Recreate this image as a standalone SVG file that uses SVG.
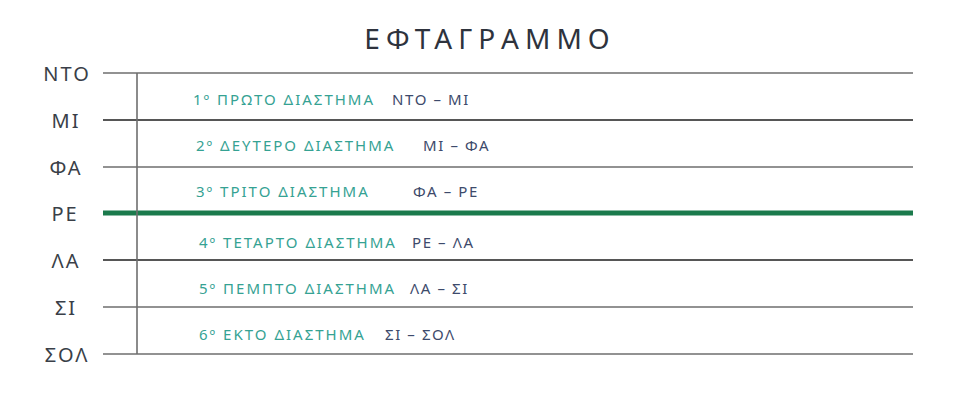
<svg xmlns="http://www.w3.org/2000/svg" width="962" height="404" viewBox="0 0 962 404">
  <style>
    .title { font-family: "Noto Sans", "DejaVu Sans", sans-serif; font-size: 28px; fill: #2e333d; letter-spacing: 6px; text-anchor: middle; }
    .note { font-family: "Noto Sans", "DejaVu Sans", sans-serif; font-size: 20px; fill: #3a3f48; text-anchor: middle; dominant-baseline: central; letter-spacing: 2px; }
    .iv { font-family: "Noto Sans", "DejaVu Sans", sans-serif; font-size: 15px; fill: #35a293; letter-spacing: 2px; }
    .pair { font-family: "Noto Sans", "DejaVu Sans", sans-serif; font-size: 15px; fill: #3d4a6b; letter-spacing: 1.6px; }
    .staff { stroke: #6e6e6e; stroke-width: 1.6; fill: none; }
    .dark { stroke: #1e1e1e; stroke-width: 1.6; }
    .main { stroke: #1b7a4c; stroke-width: 5; fill: none; }
  </style>
  <rect width="962" height="404" fill="#ffffff"/>

  <g id="title">
    <text class="title" x="490" y="49">ΕΦΤΑΓΡΑΜΜΟ</text>
  </g>

  <g id="connectors">
    <line class="staff" x1="103" y1="73" x2="913" y2="73"/>
    <line class="staff dark" x1="103" y1="120" x2="913" y2="120"/>
    <line class="staff" x1="103" y1="167" x2="913" y2="167"/>
    <line class="main" x1="103" y1="213" x2="913" y2="213"/>
    <line class="staff dark" x1="103" y1="260" x2="913" y2="260"/>
    <line class="staff" x1="103" y1="307" x2="913" y2="307"/>
    <line class="staff" x1="103" y1="354" x2="913" y2="354"/>
    <line class="staff" x1="137" y1="73" x2="137" y2="354" stroke="#444"/>
  </g>

  <g id="note-nto"><text class="note" x="67" y="73">ΝΤΟ</text></g>
  <g id="note-mi"><text class="note" x="66" y="120">ΜΙ</text></g>
  <g id="note-fa"><text class="note" x="66" y="167">ΦΑ</text></g>
  <g id="note-re"><text class="note" x="65" y="213">ΡΕ</text></g>
  <g id="note-la"><text class="note" x="66" y="260">ΛΑ</text></g>
  <g id="note-si"><text class="note" x="66" y="307">ΣΙ</text></g>
  <g id="note-sol"><text class="note" x="67" y="354">ΣΟΛ</text></g>

  <g id="interval-1">
    <text class="iv" x="193" y="105">1º ΠΡΩΤΟ ΔΙΑΣΤΗΜΑ</text>
    <text class="pair" x="392" y="105">ΝΤΟ – ΜΙ</text>
  </g>
  <g id="interval-2">
    <text class="iv" x="196" y="151">2º ΔΕΥΤΕΡΟ ΔΙΑΣΤΗΜΑ</text>
    <text class="pair" x="423" y="151">ΜΙ – ΦΑ</text>
  </g>
  <g id="interval-3">
    <text class="iv" x="196" y="197">3º ΤΡΙΤΟ ΔΙΑΣΤΗΜΑ</text>
    <text class="pair" x="413" y="197">ΦΑ – ΡΕ</text>
  </g>
  <g id="interval-4">
    <text class="iv" x="199" y="248">4º ΤΕΤΑΡΤΟ ΔΙΑΣΤΗΜΑ</text>
    <text class="pair" x="412" y="248">ΡΕ – ΛΑ</text>
  </g>
  <g id="interval-5">
    <text class="iv" x="199" y="294">5º ΠΕΜΠΤΟ ΔΙΑΣΤΗΜΑ</text>
    <text class="pair" x="410" y="294">ΛΑ – ΣΙ</text>
  </g>
  <g id="interval-6">
    <text class="iv" x="199" y="340">6º ΕΚΤΟ ΔΙΑΣΤΗΜΑ</text>
    <text class="pair" x="385" y="340">ΣΙ – ΣΟΛ</text>
  </g>
</svg>
